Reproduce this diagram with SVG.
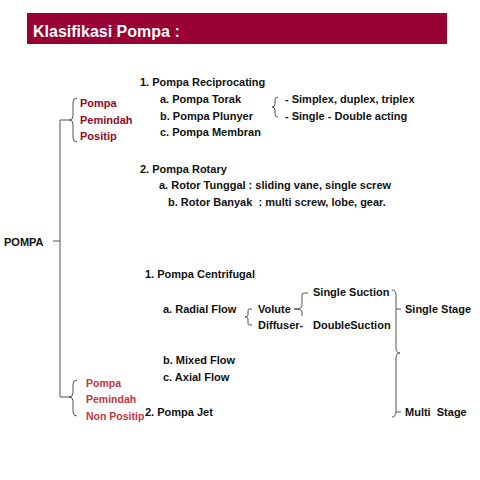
<svg xmlns="http://www.w3.org/2000/svg" width="480" height="480" viewBox="0 0 480 480">
<style>
text{font-family:"Liberation Sans",Arial,sans-serif;font-weight:bold;font-size:11px;fill:#111}
.title{font-size:16px;fill:#fff}
.red1{fill:#8e0b1f}
.red2{fill:#c0393b;font-size:10.5px}
.ln{fill:none;stroke:#555;stroke-width:1}
</style>
<rect width="480" height="480" fill="#fff"/>
<g id="title">
<rect x="27" y="13" width="420" height="31" fill="#990033"/>
<text class="title" x="33" y="37">Klasifikasi Pompa :</text>
</g>
<g id="connectors">
<path class="ln" d="M69,120 H60 V397 H69"/>
<path class="ln" d="M53,241 H60"/>
<path class="ln" d="M77,98 Q73,98 73,102 V116 Q73,120 69,120 Q73,120 73,124 V138 Q73,142 77,142"/>
<path class="ln" d="M77,380 Q73,380 73,384 V393 Q73,397 69,397 Q73,397 73,401 V412 Q73,416 77,416"/>
<path class="ln" d="M278,97 Q275,97 275,100 V104 Q275,107 272,107 Q275,107 275,110 V114 Q275,117 278,117"/>
<path class="ln" d="M252,309 H249 Q248,309 248,311 V315 Q248,317 245,317 Q248,317 248,319 V323 Q248,325 249,325 H252"/>
<path class="ln" d="M308,293 H304 Q302,293 302,295 V306 Q302,309 294,309 Q302,309 302,312 V316"/>
<path class="ln" d="M392,290 Q396,290 396,295 V348 Q396,353 400,353 Q396,353 396,358 V411 Q396,417 392,417"/>
<path class="ln" d="M396,309 H401 M396,412 H401"/>
</g>
<g id="node-pompa"><text x="4" y="246">POMPA</text></g>
<g id="node-positip">
<text class="red1" x="80" y="107">Pompa</text>
<text class="red1" x="80" y="124">Pemindah</text>
<text class="red1" x="80" y="140">Positip</text>
</g>
<g id="node-nonpositip">
<text class="red2" x="86" y="387">Pompa</text>
<text class="red2" x="86" y="403">Pemindah</text>
<text class="red2" x="86" y="420">Non Positip</text>
</g>
<g id="node-reciprocating">
<text x="140" y="86">1. Pompa Reciprocating</text>
<text x="160" y="103">a. Pompa Torak</text>
<text x="160" y="120">b. Pompa Plunyer</text>
<text x="160" y="136">c. Pompa Membran</text>
</g>
<g id="node-torak-types">
<text x="285" y="103">- Simplex, duplex, triplex</text>
<text x="285" y="120">- Single - Double acting</text>
</g>
<g id="node-rotary">
<text x="140" y="173">2. Pompa Rotary</text>
<text x="159" y="189">a. Rotor Tunggal : sliding vane, single screw</text>
<text x="168" y="206" xml:space="preserve">b. Rotor Banyak  : multi screw, lobe, gear.</text>
</g>
<g id="node-centrifugal">
<text x="145" y="278">1. Pompa Centrifugal</text>
<text x="163" y="313">a. Radial Flow</text>
<text x="163" y="364">b. Mixed Flow</text>
<text x="163" y="381">c. Axial Flow</text>
</g>
<g id="node-volute"><text x="258" y="313">Volute</text></g>
<g id="node-diffuser"><text x="258" y="329">Diffuser-</text></g>
<g id="node-single-suction"><text x="313" y="296">Single Suction</text></g>
<g id="node-double-suction"><text x="313" y="329">DoubleSuction</text></g>
<g id="node-single-stage"><text x="405" y="313">Single Stage</text></g>
<g id="node-multi-stage"><text x="405" y="416" xml:space="preserve">Multi  Stage</text></g>
<g id="node-jet"><text x="145" y="416">2. Pompa Jet</text></g>
</svg>
